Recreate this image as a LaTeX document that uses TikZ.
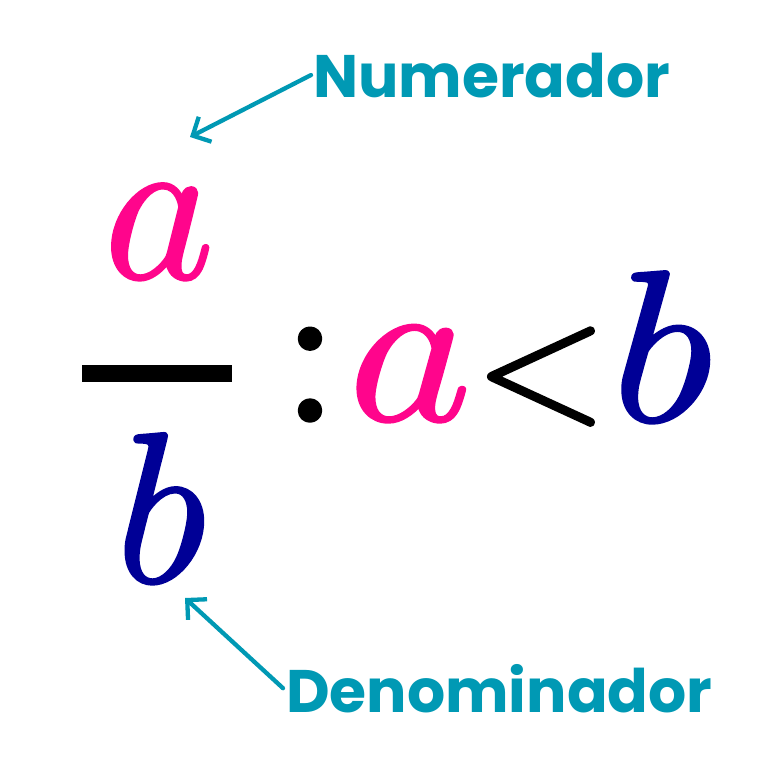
\documentclass[tikz,border=0pt]{standalone}
\usepackage{graphicx}
\usepackage{fontspec}
\newfontfamily\labfont{Poppins}
\usetikzlibrary{arrows.meta}
\definecolor{pinkc}{HTML}{FF058C}
\definecolor{navyc}{HTML}{000096}
\definecolor{tealc}{HTML}{0099B4}
% glyph painted with fill + outline of the same colour (#1 = outline width)
\newcommand{\heavy}[2]{\special{pdf:literal direct 2 Tr #1 w 1 j}#2\special{pdf:literal direct 0 Tr}}
\newcommand{\fracglyph}[1]{\scalebox{8.6}{\heavy{0.36}{$#1$}}}
\newcommand{\lineglyph}[1]{\scalebox{9.6}[8.65]{\heavy{0.36}{$#1$}}}
\tikzset{
  mathglyph/.style={inner sep=0pt, font=\Huge},
  labeltext/.style={inner sep=0pt, text=tealc, font=\labfont\bfseries\fontsize{60}{60}\selectfont},
  pointer/.style={draw=tealc, line width=4.3pt, line cap=round, -{Straight Barb[length=14pt,width=28pt,line width=4.3pt]}}
}
\begin{document}
\begin{tikzpicture}[x=1pt,y=-1pt]
\useasboundingbox[fill=white] (0,0) rectangle (768,768);
% fraction
\node[mathglyph, anchor=base, text=pinkc] (numa) at (159,278) {\fracglyph{a}};
\fill (82,365) rectangle (232,382);
\node[mathglyph, anchor=base, text=navyc] (denb) at (161,582) {\fracglyph{b}};
% colon and inequality
\node[mathglyph, anchor=base] (colon) at (310,419) {\scalebox{8.3}{\heavy{0.9}{:}}};
\node[mathglyph, anchor=base, text=pinkc] (ra) at (410,420) {\lineglyph{a}};
\node[mathglyph, anchor=center] (lt) at (541,376.5) {\scalebox{7.1}{\heavy{0.36}{$<$}}};
\node[mathglyph, anchor=base, text=navyc] (rb) at (662,421) {\lineglyph{b}};
% labels
\node[labeltext, anchor=base west] (num) at (313,97) {Numerador};
\node[labeltext, anchor=base west] (den) at (286,712) {Denominador};
\coordinate (t1) at (190,137);
\coordinate (t2) at (185,598);
\draw[pointer] ([xshift=-2pt]num.west) -- (t1);
\draw[pointer] ([xshift=-3pt]den.west) -- (t2);
\end{tikzpicture}
\end{document}
